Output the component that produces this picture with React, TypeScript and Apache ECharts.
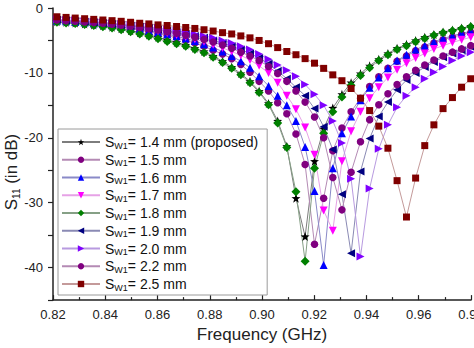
import React, { useEffect, useRef } from 'react';
import * as echarts from 'echarts';

const freqGHz = [0.8215, 0.8250, 0.8285, 0.8321, 0.8356, 0.8391, 0.8426, 0.8461, 0.8497, 0.8532,
  0.8567, 0.8602, 0.8637, 0.8673, 0.8708, 0.8743, 0.8778, 0.8813, 0.8849, 0.8884,
  0.8919, 0.8954, 0.8989, 0.9025, 0.9060, 0.9095, 0.9130, 0.9165, 0.9201, 0.9236,
  0.9271, 0.9306, 0.9341, 0.9377, 0.9412, 0.9447, 0.9482, 0.9517, 0.9553, 0.9588,
  0.9623, 0.9658, 0.9693, 0.9729, 0.9764, 0.9799];

const sw14 = [-2.1, -2.2, -2.3, -2.45, -2.6, -2.75, -2.95, -3.2, -3.5, -3.8,
  -4.15, -4.5, -4.9, -5.3, -5.7, -6.2, -6.7, -7.4, -8.2, -9.1,
  -10.1, -11.3, -12.8, -14.7, -17.4, -21.3, -29.3, -35.2, -23.6, -18.6,
  -15.4, -13.3, -11.5, -10.1, -8.9, -7.9, -7.0, -6.2, -5.6, -5.0,
  -4.5, -4.1, -3.7, -3.4, -3.1, -2.8];
const sw15 = [-2.0, -2.1, -2.2, -2.3, -2.45, -2.6, -2.75, -2.95, -3.15, -3.4,
  -3.65, -3.95, -4.25, -4.6, -5.0, -5.4, -5.9, -6.5, -7.1, -7.8,
  -8.7, -9.9, -11.3, -12.8, -14.6, -16.3, -19.4, -24.1, -36.4, -29.3,
  -22.0, -18.5, -16.0, -13.9, -12.1, -10.6, -9.3, -8.2, -7.4, -6.6,
  -6.0, -5.4, -4.9, -4.5, -4.1, -3.8];
const sw16 = [-1.95, -2.05, -2.15, -2.25, -2.4, -2.5, -2.65, -2.85, -3.05, -3.25,
  -3.5, -3.75, -4.05, -4.35, -4.7, -5.1, -5.6, -6.1, -6.7, -7.4,
  -8.2, -9.2, -10.5, -12.0, -13.5, -15.0, -17.4, -21.4, -28.2, -39.6,
  -24.7, -19.3, -16.7, -14.2, -12.3, -10.7, -9.3, -8.1, -7.2, -6.4,
  -5.8, -5.2, -4.7, -4.3, -3.9, -3.6];
const sw17 = [-1.9, -2.0, -2.1, -2.2, -2.3, -2.45, -2.6, -2.75, -2.95, -3.15,
  -3.35, -3.6, -3.85, -4.15, -4.45, -4.8, -5.2, -5.65, -6.15, -6.7,
  -7.3, -8.0, -8.9, -10.0, -11.5, -13.5, -15.6, -18.4, -22.6, -31.2,
  -34.3, -23.6, -19.0, -16.0, -13.9, -12.2, -10.7, -9.5, -8.5, -7.7,
  -7.0, -6.3, -5.8, -5.3, -4.9, -4.5];
const sw18 = [-2.2, -2.3, -2.4, -2.55, -2.7, -2.9, -3.1, -3.35, -3.65, -4.0,
  -4.35, -4.75, -5.15, -5.5, -5.9, -6.4, -6.9, -7.6, -8.4, -9.3,
  -10.3, -11.5, -13.0, -14.9, -17.7, -21.5, -28.3, -39.0, -24.7, -19.3,
  -16.0, -13.7, -11.9, -10.4, -9.2, -8.1, -7.2, -6.4, -5.8, -5.2,
  -4.7, -4.2, -3.8, -3.5, -3.2, -2.9];
const sw19 = [-1.8, -1.9, -2.0, -2.1, -2.2, -2.3, -2.45, -2.6, -2.75, -2.9,
  -3.1, -3.3, -3.5, -3.75, -4.0, -4.3, -4.6, -5.0, -5.4, -5.9,
  -6.4, -7.0, -7.7, -8.6, -9.7, -10.9, -12.2, -13.5, -15.5, -18.3,
  -21.8, -28.7, -37.8, -25.2, -20.1, -16.7, -14.5, -12.6, -11.1, -10.0,
  -9.1, -8.3, -7.6, -7.0, -6.5, -6.0];
const sw20 = [-1.75, -1.85, -1.9, -2.0, -2.1, -2.2, -2.35, -2.45, -2.6, -2.75,
  -2.9, -3.1, -3.3, -3.5, -3.75, -4.0, -4.3, -4.6, -5.0, -5.4,
  -5.9, -6.4, -7.1, -7.9, -8.8, -9.6, -10.5, -11.8, -13.3, -15.0,
  -17.4, -20.8, -26.3, -38.3, -27.8, -21.7, -18.0, -15.3, -13.5, -12.2,
  -10.9, -9.9, -9.0, -8.1, -7.4, -6.8];
const sw22 = [-1.85, -1.95, -2.05, -2.15, -2.25, -2.35, -2.5, -2.65, -2.8, -3.0,
  -3.2, -3.4, -3.65, -3.9, -4.2, -4.5, -4.85, -5.25, -5.7, -6.2,
  -6.8, -7.4, -8.1, -9.0, -10.1, -11.3, -12.8, -14.5, -16.8, -20.0,
  -26.1, -31.1, -25.3, -20.6, -17.2, -14.9, -13.2, -11.8, -10.6, -9.6,
  -8.8, -8.0, -7.4, -6.8, -6.3, -5.8];
const sw25 = [-1.35, -1.45, -1.55, -1.65, -1.75, -1.85, -1.95, -2.05, -2.2, -2.35,
  -2.45, -2.6, -2.7, -2.85, -3.0, -3.15, -3.35, -3.55, -3.8, -4.0,
  -4.3, -4.6, -5.0, -5.5, -6.1, -6.7, -7.2, -7.8, -8.5, -9.3,
  -10.3, -11.2, -12.4, -13.9, -15.8, -18.2, -21.6, -26.6, -32.2, -26.2,
  -21.2, -18.0, -15.5, -13.8, -12.2, -10.9];

const seriesLabels = ['1.4 mm (proposed)', '1.5 mm', '1.6 mm', '1.7 mm', '1.8 mm', '1.9 mm', '2.0 mm', '2.2 mm', '2.5 mm'];
const xTickLabels = ['0.82', '0.84', '0.86', '0.88', '0.90', '0.92', '0.94', '0.96', '0.98'];
const yTickLabels = ['0', '-10', '-20', '-30', '-40'];

const FONT = '"Liberation Sans", Arial, sans-serif';
const STAR = 'path://M0,-10 L2.35,-3.24 L9.51,-3.09 L3.8,1.24 L5.88,8.09 L0,4 L-5.88,8.09 L-3.8,1.24 L-9.51,-3.09 L-2.35,-3.24 Z';

export default function App() {
  const ref = useRef<HTMLDivElement>(null);
  useEffect(() => {
    const chart = echarts.init(ref.current!, null, { renderer: 'svg' });
    const styles = [
      { data: sw14, color: '#000000', line: '#7d7d7d', symbol: STAR, size: 9, rotate: 0 },
      { data: sw15, color: '#800080', line: '#b48ab4', symbol: 'circle', size: 7.5, rotate: 0 },
      { data: sw16, color: '#0000ff', line: '#8a8ac8', symbol: 'triangle', size: 8, rotate: 0 },
      { data: sw17, color: '#ff00ff', line: '#e6a2e6', symbol: 'triangle', size: 8, rotate: 180 },
      { data: sw18, color: '#008000', line: '#86a086', symbol: 'diamond', size: 9, rotate: 0 },
      { data: sw19, color: '#000080', line: '#8a8ab4', symbol: 'triangle', size: 8, rotate: 90 },
      { data: sw20, color: '#8000ff', line: '#b89ae0', symbol: 'triangle', size: 8, rotate: -90 },
      { data: sw22, color: '#800080', line: '#b48ab4', symbol: 'circle', size: 7.5, rotate: 0 },
      { data: sw25, color: '#800000', line: '#c49a9a', symbol: 'rect', size: 7, rotate: 0 },
    ];
    const series = styles.map((s, k) => ({
      type: 'line',
      name: seriesLabels[k],
      data: freqGHz.map((f, i) => [f, s.data[i]]),
      symbol: s.symbol,
      symbolSize: s.size,
      symbolRotate: s.rotate,
      showAllSymbol: true,
      itemStyle: { color: s.color },
      lineStyle: { color: s.line, width: 1 },
      clip: true,
    }));
    const axisColor = '#222';
    const lastIdx = xTickLabels.length - 1;
    chart.setOption({
      animation: false,
      backgroundColor: '#ffffff',
      textStyle: { fontFamily: FONT },
      grid: { left: 53, right: 0.5, top: 8, bottom: 40, containLabel: false },
      xAxis: {
        type: 'value', min: 0.82, max: 0.98, interval: 0.02,
        axisLine: { onZero: false, lineStyle: { color: axisColor, width: 1.5 } },
        axisTick: { inside: true, length: 5, lineStyle: { color: axisColor, width: 1.2 } },
        minorTick: { show: true, splitNumber: 2, length: 3, lineStyle: { color: axisColor, width: 1.2 } },
        splitLine: { show: false },
        axisLabel: {
          formatter: (v: number) => {
            const k = Math.round((v - 0.82) / 0.02);
            return k === lastIdx ? '' : (xTickLabels[k] ?? '');
          },
          fontSize: 13, color: axisColor, margin: 8, fontFamily: FONT,
        },
        name: 'Frequency (GHz)', nameLocation: 'middle', nameGap: 24,
        nameTextStyle: { fontSize: 17, color: axisColor, fontFamily: FONT },
      },
      yAxis: {
        type: 'value', min: -45, max: 0, interval: 5,
        axisLine: { show: true, onZero: false, lineStyle: { color: axisColor, width: 1.5 } },
        axisTick: { show: true, inside: false, length: 5, lineStyle: { color: axisColor, width: 1.2 } },
        splitLine: { show: false },
        axisLabel: {
          formatter: (v: number) => (Math.round(v) % 10 === 0 ? yTickLabels[Math.round(-v / 10)] ?? '' : ''),
          fontSize: 13, color: axisColor, margin: 10, fontFamily: FONT,
        },
      },
      legend: {
        orient: 'vertical', left: 58, top: 129,
        padding: [6, 9, 3, 3],
        borderColor: '#9a9a9a', borderWidth: 1, backgroundColor: '#ffffff',
        itemWidth: 38, itemHeight: 8, itemGap: 2.75,
        data: seriesLabels,
        formatter: (name: string) => `{s|S}{sub|W1}{s|= ${name}}`,
        textStyle: {
          fontFamily: FONT, color: '#111',
          rich: {
            s: { fontSize: 14, lineHeight: 16, fontFamily: FONT, color: '#111' },
            sub: { fontSize: 9, lineHeight: 7, verticalAlign: 'bottom', fontFamily: FONT, color: '#111' },
          },
        },
      },
      graphic: [{
        type: 'text', x: 11, y: 172, rotation: Math.PI / 2,
        style: {
          text: '{s|S}{sub|11}{s| (in dB)}',
          align: 'center', verticalAlign: 'middle', fill: axisColor,
          rich: {
            s: { fontSize: 17, lineHeight: 20, fontFamily: FONT, fill: axisColor },
            sub: { fontSize: 10, lineHeight: 9, verticalAlign: 'bottom', fontFamily: FONT, fill: axisColor },
          },
        },
      }],
      series,
    });
    // last x tick label, centred on its tick and allowed to run past the page edge
    const px = chart.convertToPixel({ xAxisIndex: 0 }, 0.82 + 0.02 * lastIdx) as number;
    const py = chart.convertToPixel({ yAxisIndex: 0 }, -45) as number;
    chart.setOption({
      graphic: [
        {},
        {
          type: 'text', x: px, y: py + 8,
          style: { text: xTickLabels[lastIdx], align: 'center', verticalAlign: 'top', fontSize: 13, fontFamily: FONT, fill: axisColor },
        },
      ],
    });
    return () => chart.dispose();
  }, []);
  return <div ref={ref} style={{ position: 'fixed', left: 0, top: 0, width: 474, height: 348, background: '#fff' }} />;
}
